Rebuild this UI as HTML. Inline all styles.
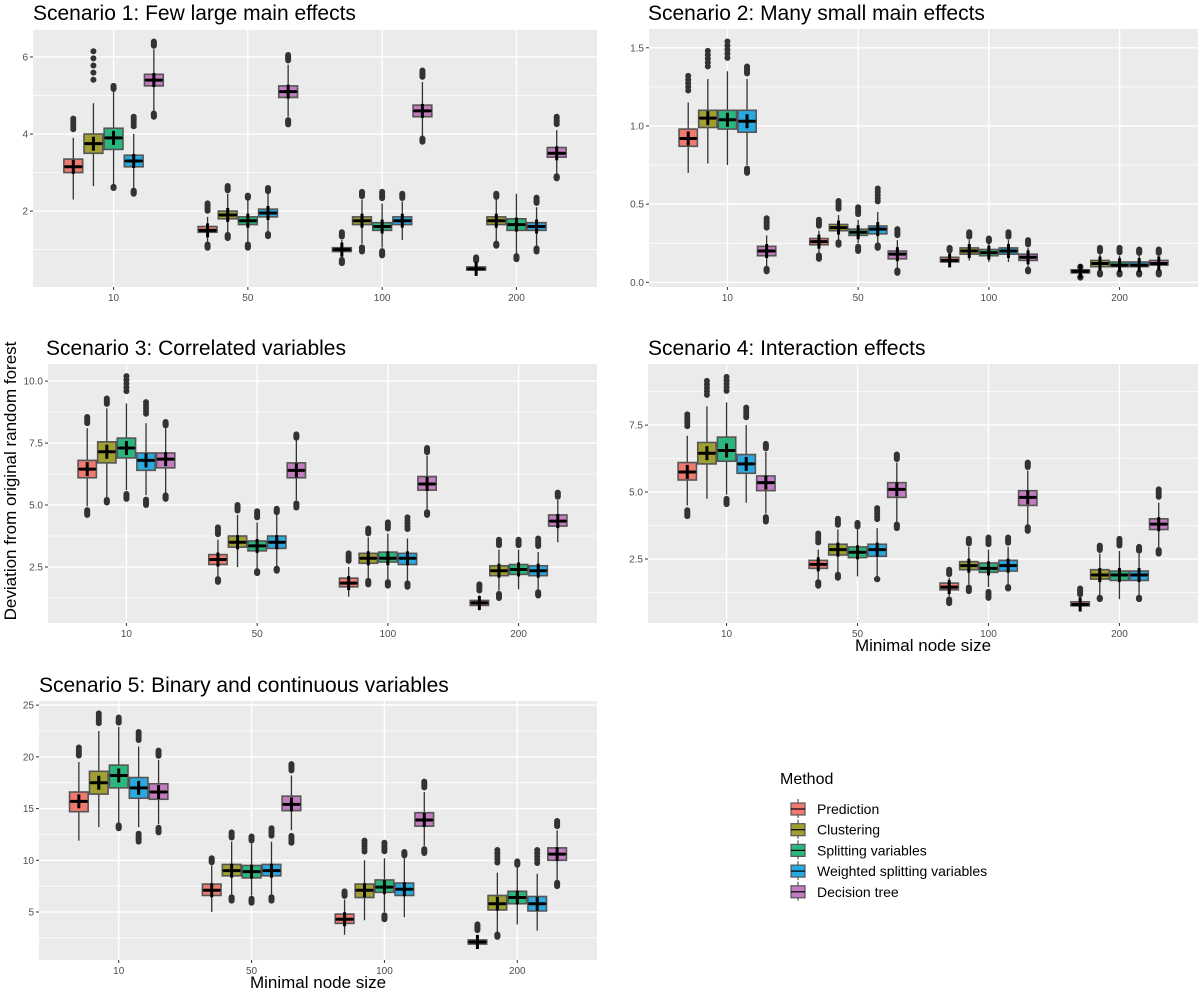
<!DOCTYPE html>
<html><head><meta charset="utf-8"><style>
html,body{margin:0;padding:0;background:#fff;}
svg{display:block;font-family:"Liberation Sans",sans-serif;}
</style></head><body>
<svg id="chart" width="1200" height="994" viewBox="0 0 1200 994"></svg>
<script>
const cats=['10','50','100','200'];
const methods=['Prediction','Clustering','Splitting variables','Weighted splitting variables','Decision tree'];
const colors=['#f07a70','#a0a032','#2bb67e','#2aa8e0','#c27cbf'];

// Scenario 1
const s1_ticks=[2,4,6];
const s1_med=[[3.15,3.75,3.9,3.3,5.4],[1.5,1.9,1.75,1.95,5.1],[1.0,1.75,1.6,1.75,4.6],[0.5,1.75,1.65,1.6,3.5]];
const s1_q1=[[3.0,3.5,3.6,3.15,5.25],[1.45,1.8,1.65,1.85,4.95],[0.95,1.65,1.5,1.65,4.45],[0.47,1.65,1.5,1.5,3.4]];
const s1_q3=[[3.35,4.0,4.15,3.45,5.55],[1.6,2.0,1.85,2.05,5.25],[1.05,1.85,1.7,1.85,4.75],[0.55,1.85,1.8,1.7,3.65]];
const s1_wlo=[[2.3,2.65,2.65,2.6,4.6],[1.2,1.45,1.2,1.45,4.45],[0.8,1.15,1.05,1.25,3.95],[0.4,1.2,0.9,1.1,2.95]];
const s1_whi=[[3.9,4.8,5.1,4.0,6.2],[1.85,2.45,2.3,2.45,5.8],[1.25,2.3,2.2,2.25,5.35],[0.65,2.3,2.45,2.1,4.1]];
const s1_ohi=[[4.4,6.15,5.25,4.45,6.4],[2.2,2.65,2.4,2.6,6.05],[1.45,2.5,2.5,2.45,5.65],[0.8,2.45,0,2.35,4.45]];
const s1_olo=[[0,0,2.6,2.45,4.45],[1.05,1.3,1.05,1.35,4.25],[0.65,0.95,0.85,0,3.8],[0,1.1,0.75,0.95,2.85]];

// Scenario 2
const s2_ticks=[0,0.5,1.0,1.5];
const s2_med=[[0.92,1.05,1.04,1.03,0.2],[0.26,0.35,0.32,0.34,0.18],[0.14,0.2,0.19,0.2,0.16],[0.07,0.12,0.11,0.11,0.12]];
const s2_q1=[[0.87,0.99,0.98,0.96,0.17],[0.24,0.33,0.3,0.31,0.15],[0.13,0.18,0.17,0.18,0.14],[0.06,0.1,0.1,0.1,0.11]];
const s2_q3=[[0.98,1.1,1.1,1.1,0.23],[0.28,0.37,0.34,0.36,0.2],[0.16,0.22,0.21,0.22,0.18],[0.08,0.14,0.13,0.13,0.14]];
const s2_wlo=[[0.7,0.76,0.75,0.75,0.1],[0.19,0.27,0.25,0.25,0.09],[0.1,0.14,0.13,0.13,0.09],[0.04,0.07,0.07,0.07,0.08]];
const s2_whi=[[1.15,1.3,1.35,1.3,0.3],[0.33,0.43,0.4,0.45,0.27],[0.19,0.27,0.25,0.27,0.22],[0.09,0.18,0.17,0.17,0.17]];
const s2_ohi=[[1.32,1.48,1.54,1.38,0.41],[0.4,0.52,0.48,0.6,0.34],[0.22,0.32,0.28,0.32,0.27],[0.1,0.22,0.22,0.21,0.21]];
const s2_olo=[[0,0,0,0.7,0.07],[0.15,0.24,0.2,0.22,0.06],[0,0,0,0,0.07],[0.03,0.05,0.05,0.05,0.05]];

// Scenario 3
const s3_ticks=[2.5,5.0,7.5,10.0];
const s3_med=[[6.45,7.15,7.3,6.8,6.85],[2.8,3.5,3.35,3.5,6.4],[1.85,2.85,2.85,2.85,5.85],[1.05,2.35,2.4,2.35,4.35]];
const s3_q1=[[6.1,6.7,6.9,6.4,6.5],[2.6,3.3,3.15,3.25,6.1],[1.7,2.65,2.7,2.6,5.6],[0.95,2.15,2.2,2.15,4.15]];
const s3_q3=[[6.8,7.55,7.7,7.1,7.1],[3.0,3.75,3.55,3.75,6.7],[2.05,3.05,3.1,3.05,6.15],[1.15,2.55,2.6,2.55,4.6]];
const s3_wlo=[[4.95,5.3,5.6,5.4,5.5],[2.1,2.5,2.4,2.5,5.2],[1.3,2.05,2.0,1.95,4.8],[0.75,1.55,1.6,1.6,3.5]];
const s3_whi=[[8.1,8.9,9.1,8.3,8.1],[3.6,4.6,4.3,4.6,7.6],[2.5,3.7,3.85,3.65,7.0],[1.35,3.2,3.2,3.1,5.2]];
const s3_ohi=[[8.55,9.3,10.2,9.15,8.35],[4.1,5.0,4.75,4.85,7.85],[3.05,4.05,4.3,4.5,7.3],[1.8,3.6,3.6,3.65,5.5]];
const s3_olo=[[4.6,5.1,5.25,5.0,5.25],[1.9,0,2.25,2.35,4.9],[0,1.8,1.75,1.7,4.6],[0,1.25,0,1.35,0]];

// Scenario 4
const s4_ticks=[2.5,5.0,7.5];
const s4_med=[[5.75,6.45,6.55,6.05,5.35],[2.3,2.85,2.75,2.85,5.1],[1.45,2.25,2.15,2.25,4.8],[0.8,1.9,1.9,1.9,3.8]];
const s4_q1=[[5.45,6.05,6.15,5.7,5.05],[2.15,2.65,2.55,2.6,4.8],[1.35,2.1,2.0,2.05,4.5],[0.75,1.75,1.7,1.7,3.6]];
const s4_q3=[[6.1,6.85,7.05,6.4,5.6],[2.45,3.05,2.95,3.05,5.35],[1.6,2.4,2.35,2.45,5.05],[0.9,2.1,2.05,2.05,4.0]];
const s4_wlo=[[4.5,4.75,4.9,4.6,4.2],[1.75,2.0,1.85,1.75,3.9],[1.1,1.55,1.45,1.5,3.8],[0.6,1.1,1.0,1.1,2.95]];
const s4_whi=[[7.1,8.2,8.35,7.5,6.5],[2.85,3.6,3.6,3.65,6.1],[1.8,2.95,2.85,2.95,5.8],[1.0,2.7,2.8,2.7,4.6]];
const s4_ohi=[[7.9,9.15,9.3,8.15,6.8],[3.45,4.0,3.85,4.4,6.4],[2.1,3.25,3.3,3.3,6.1],[1.4,3.0,3.25,2.95,5.1]];
const s4_olo=[[4.1,0,4.55,0,3.9],[1.5,1.8,0,1.75,3.65],[0.85,1.3,1.05,1.4,3.55],[0,1.0,0,1.0,2.7]];

// Scenario 5
const s5_ticks=[5,10,15,20,25];
const s5_med=[[15.7,17.5,18.2,17.0,16.6],[7.1,9.0,8.9,9.0,15.4],[4.3,7.1,7.4,7.2,13.9],[2.1,5.8,6.4,5.8,10.6]];
const s5_q1=[[14.7,16.4,17.0,16.0,15.9],[6.6,8.5,8.3,8.5,14.8],[3.9,6.4,6.9,6.6,13.3],[1.9,5.2,5.8,5.1,10.0]];
const s5_q3=[[16.6,18.6,19.2,18.0,17.4],[7.7,9.6,9.5,9.6,16.2],[4.8,7.7,8.1,7.8,14.6],[2.3,6.6,7.0,6.5,11.2]];
const s5_wlo=[[11.9,13.2,13.6,13.2,13.5],[5.0,6.7,6.6,6.7,12.9],[2.8,4.2,5.0,4.5,11.4],[1.5,3.0,3.8,3.2,8.1]];
const s5_whi=[[19.5,22.5,22.9,21.0,19.7],[9.5,11.8,11.6,11.8,18.2],[6.2,10.0,10.2,10.2,16.6],[2.8,8.8,9.3,8.7,12.9]];
const s5_ohi=[[20.9,24.2,23.8,22.4,20.6],[10.2,12.7,12.3,13.1,19.3],[7.0,11.9,11.7,10.8,17.6],[3.8,11.0,9.9,11.0,13.8]];
const s5_olo=[[0,0,13.1,11.8,12.7],[0,6.1,5.9,6.1,11.7],[0,0,4.3,0,10.7],[0,2.6,0,0,7.5]];

const NS='http://www.w3.org/2000/svg';
const svg=document.getElementById('chart');
function mk(tag,attrs,parent){const e=document.createElementNS(NS,tag);for(const k in attrs)e.setAttribute(k,attrs[k]);(parent||svg).appendChild(e);return e;}

const panels=[
 {title:'Scenario 1: Few large main effects',tx:33,ty:20,l:33,r:597,t:30,b:287,ymin:0.03,ymax:6.7,ticks:s1_ticks,fmt:v=>String(v),
  d:[s1_med,s1_q1,s1_q3,s1_wlo,s1_whi,s1_ohi,s1_olo],xl:false},
 {title:'Scenario 2: Many small main effects',tx:648,ty:20,l:649,r:1198,t:29,b:287,ymin:-0.03,ymax:1.62,ticks:s2_ticks,fmt:v=>v.toFixed(1),
  d:[s2_med,s2_q1,s2_q3,s2_wlo,s2_whi,s2_ohi,s2_olo],xl:false},
 {title:'Scenario 3: Correlated variables',tx:46,ty:355,l:48,r:597,t:364,b:623,ymin:0.24,ymax:10.69,ticks:s3_ticks,fmt:v=>v.toFixed(1),
  d:[s3_med,s3_q1,s3_q3,s3_wlo,s3_whi,s3_ohi,s3_olo],xl:false},
 {title:'Scenario 4: Interaction effects',tx:648,ty:355,l:648,r:1198,t:364,b:623,ymin:0.11,ymax:9.78,ticks:s4_ticks,fmt:v=>v.toFixed(1),
  d:[s4_med,s4_q1,s4_q3,s4_wlo,s4_whi,s4_ohi,s4_olo],xl:true},
 {title:'Scenario 5: Binary and continuous variables',tx:39,ty:692,l:39,r:597,t:701,b:960,ymin:0.36,ymax:25.4,ticks:s5_ticks,fmt:v=>String(v),
  d:[s5_med,s5_q1,s5_q3,s5_wlo,s5_whi,s5_ohi,s5_olo],xl:true}
];

panels.forEach((p,pi)=>{
  const g=mk('g',{});
  
  
  const y=v=>p.b-(v-p.ymin)/(p.ymax-p.ymin)*(p.b-p.t);
  const step=(p.r-p.l)/4.2;
  const xc=i=>p.l+(0.6+i)*step;
  const title=mk('text',{x:p.tx,y:p.ty,'font-size':21,fill:'#000'},g);
  title.textContent=p.title;
  
  
  const bg=mk('rect',{x:p.l,y:p.t,width:p.r-p.l,height:p.b-p.t,fill:'#ebebeb'},g);
  
  
  const tstep=p.ticks[1]-p.ticks[0];
  for(let v=p.ticks[0]-tstep/2;v<=p.ymax;v+=tstep){ if(v>=p.ymin) mk('line',{x1:p.l,x2:p.r,y1:y(v),y2:y(v),stroke:'#fff','stroke-width':0.7},g); }
  p.ticks.forEach(v=>{
    const ln=mk('line',{x1:p.l,x2:p.r,y1:y(v),y2:y(v),stroke:'#fff','stroke-width':1.4},g);
    
    
    mk('line',{x1:p.l-3,x2:p.l,y1:y(v),y2:y(v),stroke:'#333','stroke-width':1},g);
    const t=mk('text',{x:p.l-5,y:y(v)+3.5,'font-size':10,fill:'#4d4d4d','text-anchor':'end'},g);
    t.textContent=p.fmt(v);
    
    
  });
  cats.forEach((c,i)=>{
    const gl=mk('line',{x1:xc(i),x2:xc(i),y1:p.t,y2:p.b,stroke:'#fff','stroke-width':1.4},g);
    
    
    mk('line',{x1:xc(i),x2:xc(i),y1:p.b,y2:p.b+3,stroke:'#333','stroke-width':1},g);
    const t=mk('text',{x:xc(i),y:p.b+14,'font-size':10,fill:'#4d4d4d','text-anchor':'middle'},g);
    t.textContent=c;
    
    
  });
  const [med,q1,q3,wlo,whi,ohi,olo]=p.d;
  const bw=step*0.14, dodge=step*0.15;
  cats.forEach((c,i)=>{
    methods.forEach((m,j)=>{
      const cx=xc(i)+(j-2)*dodge;
      const bx=mk('g',{},g);
      
      
      mk('line',{x1:cx,x2:cx,y1:y(wlo[i][j]),y2:y(whi[i][j]),stroke:'#333','stroke-width':1.3},bx);
      [ohi[i][j],olo[i][j]].forEach((o,k)=>{
        if(!o) return;
        const base=k===0?whi[i][j]:wlo[i][j];
        const n=5;
        for(let q=0;q<n;q++){
          const v=base+(o-base)*(0.45+0.55*q/(n-1));
          mk('circle',{cx:cx,cy:y(v),r:3,fill:'#333'},bx);
        }
      });
      mk('rect',{x:cx-bw/2,y:y(q3[i][j]),width:bw,height:Math.max(2,y(q1[i][j])-y(q3[i][j])),fill:colors[j],stroke:'#555','stroke-width':1.6},bx);
      mk('line',{x1:cx-bw/2,x2:cx+bw/2,y1:y(med[i][j]),y2:y(med[i][j]),stroke:'#111','stroke-width':2},bx);
      mk('line',{x1:cx-bw/2+1,x2:cx+bw/2-1,y1:y(med[i][j]),y2:y(med[i][j]),stroke:'#000','stroke-width':3},bx);
      mk('line',{x1:cx,x2:cx,y1:y(med[i][j])-7,y2:y(med[i][j])+7,stroke:'#000','stroke-width':3},bx);
    });
  });
  if(p.xl){
    const xt=mk('text',{x:(p.l+p.r)/2,y:p.b+28,'font-size':17,fill:'#000','text-anchor':'middle'},g);
    xt.textContent='Minimal node size';
    
    
  }
});

const yt=mk('text',{x:0,y:0,'font-size':17,fill:'#000','text-anchor':'middle',transform:'translate(16,481) rotate(-90)'});
yt.textContent='Deviation from original random forest';



const lg=mk('g',{});


const lt=mk('text',{x:780,y:784,'font-size':16,fill:'#000'},lg);
lt.textContent='Method';


methods.forEach((m,j)=>{
  const yy=800+j*20.7;
  const e=mk('g',{},lg);
  
  
  mk('line',{x1:798,x2:798,y1:yy-1,y2:yy+18,stroke:'#333','stroke-width':1},e);
  mk('rect',{x:791,y:yy+3,width:14,height:12,fill:colors[j],stroke:'#555','stroke-width':1.2},e);
  mk('line',{x1:791,x2:805,y1:yy+9,y2:yy+9,stroke:'#000','stroke-width':1.2},e);
  const t=mk('text',{x:817,y:yy+14,'font-size':14,fill:'#000'},e);
  t.textContent=m;
});
</script>
</body></html>
